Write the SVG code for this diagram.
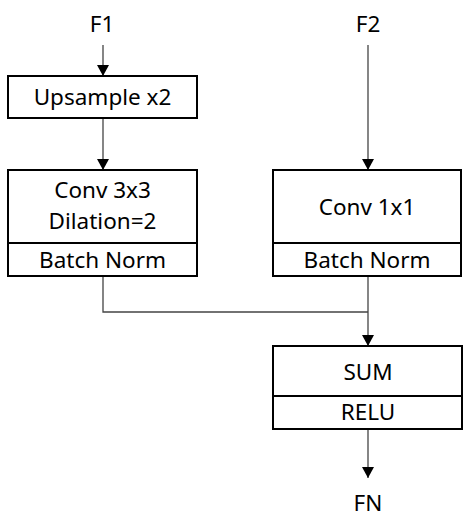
<svg xmlns="http://www.w3.org/2000/svg" width="474" height="522" viewBox="0 0 474 522">
<defs>
<style>
.box{fill:#fff;stroke:#000;stroke-width:2}
.div{stroke:#000;stroke-width:2}
.t{font-family:"Noto Sans","Open Sans",sans-serif;font-size:22.5px;fill:#000;text-anchor:middle}
.c{stroke:#444;stroke-width:1.3;fill:none}
</style>
<marker id="ah" markerWidth="12" markerHeight="12" refX="11" refY="6" orient="auto" markerUnits="userSpaceOnUse">
<path d="M0,0 L11,6 L0,12 Z" fill="#000"/>
</marker>
</defs>
<rect width="474" height="522" fill="#fff"/>
<g id="labels">
<text class="t" x="102" y="32">F1</text>
<text class="t" x="368" y="32">F2</text>
<text class="t" x="368" y="511">FN</text>
</g>
<g id="connectors">
<line class="c" x1="103" y1="45" x2="103" y2="76" marker-end="url(#ah)"/>
<line class="c" x1="103" y1="118" x2="103" y2="170" marker-end="url(#ah)"/>
<line class="c" x1="368" y1="45" x2="368" y2="170" marker-end="url(#ah)"/>
<polyline class="c" points="103,276 103,312 368,312"/>
<line class="c" x1="368" y1="276" x2="368" y2="346" marker-end="url(#ah)"/>
<line class="c" x1="368" y1="429" x2="368" y2="478" marker-end="url(#ah)"/>
</g>
<g id="upsample">
<rect class="box" x="8" y="76" width="189" height="42"/>
<text class="t" x="102.5" y="105">Upsample x2</text>
</g>
<g id="conv3x3">
<rect class="box" x="8" y="170" width="189" height="106"/>
<line class="div" x1="8" y1="243" x2="197" y2="243"/>
<text class="t" x="102.5" y="198">Conv 3x3</text>
<text class="t" x="102.5" y="229">Dilation=2</text>
<text class="t" x="102.5" y="268">Batch Norm</text>
</g>
<g id="conv1x1">
<rect class="box" x="273" y="170" width="188" height="106"/>
<line class="div" x1="273" y1="243" x2="461" y2="243"/>
<text class="t" x="367" y="215">Conv 1x1</text>
<text class="t" x="367" y="268">Batch Norm</text>
</g>
<g id="sum">
<rect class="box" x="273" y="346" width="189" height="83"/>
<line class="div" x1="273" y1="396" x2="462" y2="396"/>
<text class="t" x="368" y="380">SUM</text>
<text class="t" x="368" y="420">RELU</text>
</g>
</svg>
